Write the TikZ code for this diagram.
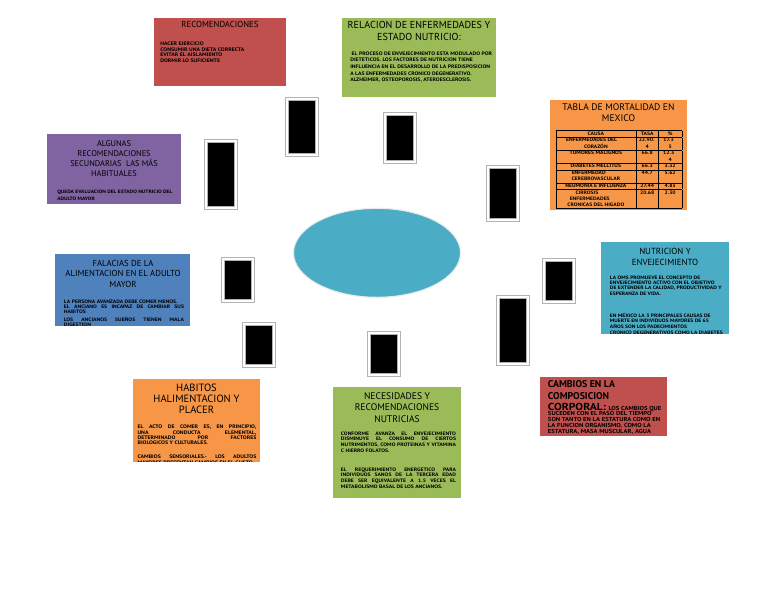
\documentclass[tikz,border=0pt]{standalone}
\usepackage{fontspec}
\setmainfont{PT Sans}
\newfontfamily\anchafont[FakeStretch=1.15]{PT Sans}
\usepackage{array}
\usetikzlibrary{positioning,shapes.geometric,shadows}
\setlength{\parindent}{0pt}
\definecolor{rojo}{RGB}{192,80,77}
\definecolor{verde}{RGB}{155,187,89}
\definecolor{naranja}{RGB}{247,150,70}
\definecolor{morado}{RGB}{128,100,162}
\definecolor{azul}{RGB}{79,129,189}
\definecolor{turquesa}{RGB}{75,172,198}
\newcolumntype{C}[1]{>{\centering\arraybackslash}p{#1}}
\newcommand{\titfont}{\fontsize{6.2}{8.3}\selectfont}
\newcommand{\letra}[2]{\anchafont\fontsize{#1}{#2}\selectfont\bfseries}
\tikzset{
  ficha/.style={draw=black!22, double=white, double distance=1.1pt, line width=0.35pt, inner sep=0pt,
    drop shadow={shadow xshift=0.9pt, shadow yshift=-0.9pt, fill=black!45, opacity=0.5}},
  marco/.style={fill=black, draw=black!30, double=white, double distance=1.8pt, line width=0.45pt,
    inner sep=0pt, minimum width=0.75cm,
    drop shadow={shadow xshift=0.8pt, shadow yshift=-0.8pt, fill=black!45, opacity=0.5}},
  titulo/.style={font=\titfont, align=center, inner sep=0pt, anchor=north},
  cuerpo/.style={font=\letra{3.6}{4.3}, inner sep=0pt, anchor=north west, align=left},
}

\begin{document}
\begin{tikzpicture}[x=0.025cm, y=-0.025cm]
  \fill[white] (0,0) rectangle (768,594);

  % centro
  \node[ellipse, fill=turquesa, draw=white!85!gray, line width=0.8pt,
    minimum width=4.175cm, minimum height=2.225cm] (centro) at (377,252.8) {};

  % recuadros negros
  \node[marco, minimum height=1.4cm] (caja1) at (302,127) {};
  \node[marco, minimum height=1.2cm] (caja2) at (400,138) {};
  \node[marco, minimum height=1.675cm] (caja3) at (221,174.5) {};
  \node[marco, minimum height=1.325cm] (caja4) at (503,193.5) {};
  \node[marco, minimum height=1.05cm] (caja5) at (238,280) {};
  \node[marco, minimum height=1.05cm] (caja6) at (259,345) {};
  \node[marco, minimum height=1.05cm] (caja7) at (384,354) {};
  \node[marco, minimum height=1.675cm] (caja8) at (513,330.5) {};
  \node[marco, minimum height=1.05cm] (caja9) at (559,281) {};

  % recomendaciones
  \node[ficha, fill=rojo, minimum width=3.35cm, minimum height=1.75cm] (recom) at (220,52) {};
  \node[titulo] (recomT) at (220,21) {RECOMENDACIONES};
  \node[cuerpo, font=\letra{3.6}{4.0}] (recomC) at (160,41.5)
    {HACER EJERCICIO\\CONSUMIR UNA DIETA CORRECTA\\EVITAR EL AISLAMIENTO\\DORMIR LO SUFICIENTE};

  % relacion
  \node[ficha, fill=verde, minimum width=3.9cm, minimum height=2.025cm] (relac) at (419,57.5) {};
  \node[titulo, font=\fontsize{7.2}{8.3}\selectfont] (relacT) at (419,21.5)
    {RELACION DE ENFERMEDADES Y\\ESTADO NUTRICIO:};
  \node[cuerpo, font=\letra{3.55}{4.7}] (relacC) at (350,51.5)
    {\ EL PROCESO DE ENVEJECIMIENTO ESTA MODULADO POR\\DIETETICOS. LOS FACTORES DE NUTRICION TIENE\\INFLUENCIA EN EL DESARROLLO DE LA PREDISPOSICION\\A LAS ENFERMEDADES CRONICO DEGENERATIVO.\\ALZHEIMER, OSTEOPOROSIS, ATEROESCLEROSIS.};

  % tabla
  \node[ficha, fill=naranja, minimum width=3.475cm, minimum height=2.8cm] (tabla) at (618.5,155) {};
  \node[titulo, font=\fontsize{6.8}{7.8}\selectfont] (tablaT) at (618.5,103.5)
    {TABLA DE MORTALIDAD EN\\MEXICO};
  \node[anchor=north west, inner sep=0pt, font=\letra{3.5}{4.4}] (tablaM) at (555.3,130)
    {\setlength{\tabcolsep}{1pt}%
     \begin{tabular}{|C{54.5pt}|C{13.7pt}|C{14.2pt}|}
     \hline
     CAUSA & TASA & \% \\ \hline
     ENFERMEDADES DEL\newline CORAZÓN & 22.90.\newline 4 & 17.3\newline 5 \\ \hline
     TUMORES MALIGNOS & 66.8 & 12.3\newline 4 \\ \hline
     DIABETES MELLITUS & 66.3 & 3.32 \\ \hline
     ENFERMEDAD\newline CEREBROVASCULAR & 44.7 & 5.62 \\ \hline
     NEUMONIA E INFLUENZA & 27.44 & 4.83 \\ \hline
     CIRROSIS\newline ENFERMEDADES\newline CRONICAS DEL HIGADO & 20.68 & 2.30 \\ \hline
     \end{tabular}};

  % algunas recomendaciones
  \node[ficha, fill=morado, minimum width=3.4cm, minimum height=1.8cm] (algun) at (114,169) {};
  \node[titulo, font=\fontsize{5.9}{7.3}\selectfont] (algunT) at (114,140)
    {ALGUNAS\\RECOMENDACIONES\\SECUNDARIAS\ \ LAS MÁS\\HABITUALES};
  \node[cuerpo, font=\letra{3.4}{4.5}] (algunC) at (57,190)
    {QUEDA EVALUACION DEL ESTADO NUTRICIO DEL\\ADULTO MAYOR};

  % falacias
  \node[ficha, fill=azul, minimum width=3.425cm, minimum height=1.85cm] (falac) at (122.5,290) {};
  \node[titulo, font=\fontsize{6.2}{7.4}\selectfont] (falacT) at (123,259.7)
    {FALACIAS DE LA\\ALIMENTACION EN EL ADULTO\\MAYOR};
  \node[cuerpo, text width=3.0cm, align=justify, font=\letra{3.5}{3.8}] (falacC) at (63.7,299.5)
    {LA PERSONA AVANZADA DEBE COMER MENOS.\par
     EL ANCIANO ES INCAPAZ DE CAMBIAR SUS\linebreak HABITOS\par\vspace{1.2pt}
     LOS ANCIANOS SUEÑOS TIENEN MALA\linebreak DIGESTION};

  % nutricion
  \node[ficha, fill=turquesa, minimum width=3.25cm, minimum height=2.35cm] (nutri) at (665,288) {};
  \node[titulo, font=\fontsize{6.3}{8}\selectfont] (nutriT) at (665,247.7) {NUTRICION Y\\ENVEJECIMIENTO};
  \node[cuerpo, font=\letra{3.45}{3.7}] (nutriC) at (609.7,275.8)
    {LA OMS PROMUEVE EL CONCEPTO DE\\ENVEJECIMIENTO ACTIVO CON EL OBJETIVO\\DE EXTENDER LA CALIDAD, PRODUCTIVIDAD Y\\ESPERANZA DE VIDA.};
  \begin{scope}
    \clip ([shift={(1.5,-1.5)}]nutri.south west) rectangle ([shift={(-1.5,1.5)}]nutri.north east);
    \node[cuerpo, font=\letra{3.45}{4.2}] (nutriD) at (609.7,312.5)
      {EN MÉXICO LA 3 PRINCIPALES CAUSAS DE\\MUERTE EN INDIVIDUOS MAYORES DE 65\\AÑOS SON LOS PADECIMIENTOS\\CRONICO DEGENERATIVOS COMO LA DIABETES};
  \end{scope}

  % habitos
  \node[ficha, fill=naranja, minimum width=3.225cm, minimum height=2.125cm] (habit) at (196.5,420.5) {};
  \node[titulo, font=\fontsize{7.5}{8}\selectfont] (habitT) at (196.5,383.3)
    {HABITOS\\HALIMENTACION Y\\PLACER};
  \begin{scope}
    \clip ([shift={(1.5,-1.5)}]habit.south west) rectangle ([shift={(-1.5,1.5)}]habit.north east);
    \node[cuerpo, text width=2.97cm, align=justify, font=\letra{3.6}{3.8}] (habitC) at (137.3,425)
      {EL ACTO DE COMER ES, EN PRINCIPIO,\linebreak UNA CONDUCTA ELEMENTAL,\linebreak
       DETERMINADO POR FACTORES\linebreak BIOLOGICOS Y CULTURALES.\par\vspace{6pt}
       CAMBIOS SENSORIALES.- LOS ADULTOS\linebreak MAYORES PRESENTAN CAMBIOS EN EL GUSTO};
  \end{scope}

  % necesidades
  \node[ficha, fill=verde, minimum width=3.25cm, minimum height=2.825cm] (neces) at (397,442.5) {};
  \node[titulo, font=\fontsize{6.8}{8}\selectfont] (necesT) at (397,392.5)
    {NECESIDADES Y\\RECOMENDACIONES\\NUTRICIAS};
  \node[cuerpo, text width=2.875cm, align=justify, font=\letra{3.5}{4.0}] (necesC) at (340.7,431.5)
    {CONFORME AVANZA EL ENVEJECIMIENTO\linebreak DISMINUYE EL CONSUMO DE CIERTOS\linebreak
     NUTRIMENTOS, COMO PROTEINAS Y VITAMINA\linebreak C HIERRO FOLATOS.\par\vspace{9.5pt}
     EL REQUERIMIENTO ENERGETICO PARA\linebreak INDIVIDUOS SANOS DE LA TERCERA EDAD\linebreak
     DEBE SER EQUIVALENTE A 1.5 VECES EL\linebreak METABOLISMO BASAL DE LOS ANCIANOS.};

  % cambios
  \node[ficha, fill=rojo, minimum width=3.225cm, minimum height=1.525cm] (cambi) at (603.5,406.5) {};
  \node[titulo, anchor=north west, align=left, font=\fontsize{7}{8.3}\selectfont\bfseries] (cambiT) at (547.7,380.5)
    {CAMBIOS EN LA\\COMPOSICION};
  \node[titulo, anchor=base west, font=\anchafont\fontsize{7.2}{8.3}\selectfont\bfseries] (cambiC) at (547.7,410.3) {CORPORAL:};
  \node[cuerpo, anchor=base west, font=\letra{4.1}{4.2}] (cambiB) at ([xshift=1.5pt]cambiC.base east)
    {LOS CAMBIOS QUE};
  \node[cuerpo, font=\letra{4.1}{4.2}] (cambiD) at (547.7,411)
    {SUCEDEN CON EL PASO DEL TIEMPO\\SON TANTO EN LA ESTATURA COMO EN\\LA FUNCION ORGANISMO, COMO LA\\ESTATURA, MASA MUSCULAR, AGUA};
\end{tikzpicture}
\end{document}
